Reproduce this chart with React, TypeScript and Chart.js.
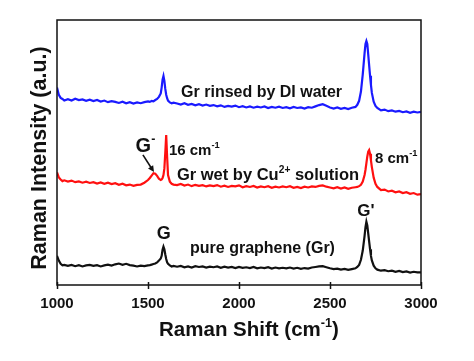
import React, { useEffect, useRef } from "react";
import { Chart, registerables } from "chart.js";

Chart.register(...registerables);

// Raman shift positions (cm^-1)
const shift = [
  1000, 1010, 1020, 1030, 1040,
  1060, 1080, 1100, 1120, 1140, 1160, 1180, 1200, 1220, 1240, 1260, 1280, 1300, 1320, 1340, 1360, 1380, 1400, 1420, 1440, 1460, 1480, 1500,
  1510, 1520, 1530, 1540, 1550, 1560, 1570,
  1575, 1580, 1585, 1590, 1595, 1600, 1605, 1610,
  1620, 1630, 1640,
  1660, 1680, 1700, 1720, 1740, 1760, 1780, 1800, 1820, 1840,
  1860, 1880, 1900, 1920, 1940, 1960, 1980, 2000, 2020, 2040,
  2060, 2080, 2100, 2120, 2140, 2160, 2180, 2200, 2220, 2240,
  2260, 2280, 2300, 2320, 2340, 2360, 2380, 2400, 2420, 2440,
  2460, 2480, 2500, 2520, 2540, 2560, 2580, 2600, 2620, 2640,
  2650, 2660, 2670, 2680, 2690,
  2695, 2700, 2705, 2710, 2715, 2720, 2725, 2730,
  2740, 2750, 2760,
  2780, 2800, 2820, 2840, 2860, 2880, 2900, 2920, 2940, 2960, 2980, 3000,
];

// Gr rinsed by DI water (blue)
const rinsed = [
  74.5, 71.8, 70.6, 70.2, 69.6,
  70.1, 69.6, 70.3, 69.8, 70.0, 69.5, 69.9, 69.4, 69.8, 69.2, 69.6, 69.0, 69.4, 69.1, 68.7, 69.2, 68.6, 69.0, 68.5, 68.9, 68.6, 69.0, 69.3,
  69.1, 69.5, 69.3, 69.8, 70.2, 71.0, 72.3,
  74.5, 77.5, 78.9, 77.0, 74.0, 71.8, 70.5, 69.6,
  68.9, 68.6, 68.8,
  68.5, 68.1, 68.6, 68.0, 68.3, 67.8, 68.2, 67.7, 68.1, 67.6,
  67.9, 67.4, 67.8, 67.2, 67.6, 67.3, 67.7, 67.1, 67.5, 67.0,
  67.4, 66.9, 67.3, 67.0, 67.4, 66.8, 67.2, 66.9, 67.3, 66.8,
  67.1, 66.7, 67.2, 66.8, 67.0, 66.6, 67.1, 66.9, 67.4, 67.9,
  68.2, 67.6, 67.0, 66.6, 67.0, 66.5, 66.8, 66.4, 66.9, 67.2,
  68.0, 69.5, 73.0, 79.5, 87.5,
  91.0, 92.1, 91.0, 87.0, 83.0, 79.0, 75.5, 72.5,
  69.2, 67.6, 66.8,
  65.9, 66.2, 65.6, 65.9, 65.4, 65.7, 65.2, 65.5, 65.0, 65.4, 65.1, 65.3,
];

// Gr wet by Cu2+ solution (red)
const wet = [
  42.5, 40.6, 39.8, 39.2, 39.5,
  39.0, 39.4, 38.8, 39.1, 38.6, 39.0, 38.5, 38.8, 38.3, 38.7, 38.2, 38.6, 38.1, 38.4, 37.8, 38.2, 37.6, 37.9, 37.4, 37.8, 37.9, 38.6, 39.6,
  40.4, 41.3, 42.2, 42.0, 41.2, 40.1, 39.6,
  39.8, 40.4, 41.5, 44.0, 50.0, 56.6, 48.5, 41.5,
  39.0, 38.2, 37.9,
  37.7, 38.1, 37.5, 37.9, 37.3, 37.8, 37.4, 37.7, 37.2, 37.6,
  37.3, 37.7, 37.1, 37.5, 37.0, 37.4, 37.2, 37.6, 36.9, 37.3,
  37.0, 37.4, 36.8, 37.2, 36.9, 37.3, 36.7, 37.1, 36.8, 37.2,
  36.9, 37.3, 36.7, 37.0, 36.6, 37.1, 36.8, 37.2, 37.0, 37.4,
  37.6, 37.1, 36.8, 36.5, 36.9, 36.4, 36.8, 36.3, 36.7, 36.9,
  37.0, 37.3, 37.8, 39.0, 41.5,
  43.5, 46.0, 48.5, 50.3, 50.9, 49.5, 47.0, 44.5,
  40.5, 38.2, 37.0,
  35.8, 36.0, 35.3, 35.6, 35.0, 35.3, 34.7, 35.0, 34.4, 34.7, 34.1, 34.3,
];

// pure graphene (black)
const pure = [
  11.0, 9.2, 8.0, 7.4, 7.6,
  7.2, 7.6, 7.1, 7.5, 7.0, 7.4, 7.6, 7.2, 7.5, 7.0, 7.4, 7.7, 7.3, 7.8, 8.1, 7.6, 8.0, 7.5, 7.3, 7.0, 7.3, 7.1, 7.4,
  7.5, 7.7, 7.9, 8.1, 8.5, 9.2, 10.0,
  11.0, 13.3, 14.5, 13.5, 11.5, 9.8, 8.6, 8.0,
  7.4, 7.0, 7.2,
  6.9, 7.2, 6.7, 7.0, 6.6, 7.1, 6.8, 7.0, 6.6, 6.9,
  6.7, 7.0, 6.5, 6.9, 6.6, 6.8, 6.4, 6.8, 6.5, 6.7,
  6.4, 6.8, 6.3, 6.6, 6.4, 6.7, 6.2, 6.6, 6.3, 6.5,
  6.3, 6.6, 6.2, 6.5, 6.1, 6.4, 6.2, 6.6, 6.8, 7.0,
  7.1, 6.7, 6.3, 6.0, 6.2, 5.8, 6.1, 5.7, 6.0, 6.3,
  6.8, 7.6, 9.5, 13.0, 18.5,
  21.8, 23.9, 22.5, 19.5, 16.5, 13.5, 11.0, 9.3,
  7.3, 6.3, 5.8,
  5.4, 5.6, 5.2, 5.4, 5.0, 5.3, 4.9, 5.1, 4.7, 5.0, 4.8, 4.8,
];

const xTicks = [1000, 1500, 2000, 2500, 3000];

type Part = { t: string; sup?: boolean };
type Note = { parts: Part[]; x: number; y: number; align: "left" | "center"; size: number };

const notes: Note[] = [
  { parts: [{ t: "Gr rinsed by DI water" }], x: 2124, y: 70.9, align: "center", size: 16 },
  { parts: [{ t: "Gr wet by Cu" }, { t: "2+", sup: true }, { t: " solution" }], x: 1659, y: 39.6, align: "left", size: 16.5 },
  { parts: [{ t: "16 cm" }, { t: "-1", sup: true }], x: 1615, y: 49.1, align: "left", size: 15 },
  { parts: [{ t: "8 cm" }, { t: "-1", sup: true }], x: 2747, y: 46.0, align: "left", size: 15 },
  { parts: [{ t: "G" }, { t: "-", sup: true }], x: 1432, y: 50.2, align: "left", size: 20 },
  { parts: [{ t: "G'" }], x: 2697, y: 26.0, align: "center", size: 17 },
  { parts: [{ t: "G" }], x: 1586, y: 17.4, align: "center", size: 18 },
  { parts: [{ t: "pure graphene (Gr)" }], x: 2129, y: 11.9, align: "center", size: 16 },
];

// arrow pointing at the G- shoulder: [shift, intensity]
const arrowFrom = [1472, 49.1];
const arrowTo = [1533, 42.6];

const FONT = '"Liberation Sans", Arial, Helvetica, sans-serif';

function drawParts(ctx: CanvasRenderingContext2D, parts: Part[], x: number, y: number, align: string, size: number) {
  const supSize = size * 0.62;
  const widths = parts.map((p) => {
    ctx.font = `bold ${p.sup ? supSize : size}px ${FONT}`;
    return ctx.measureText(p.t).width;
  });
  const total = widths.reduce((a, b) => a + b, 0);
  let cx = align === "center" ? x - total / 2 : x;
  ctx.textAlign = "left";
  ctx.textBaseline = "alphabetic";
  parts.forEach((p, i) => {
    ctx.font = `bold ${p.sup ? supSize : size}px ${FONT}`;
    ctx.fillText(p.t, cx, p.sup ? y - size * 0.45 : y);
    cx += widths[i];
  });
}

const framePlugin = {
  id: "frameAndNotes",
  afterDraw(chart: any) {
    const { ctx, chartArea, scales } = chart;
    const xs = scales.x;
    const ys = scales.y;
    ctx.save();
    ctx.strokeStyle = "#111";
    ctx.lineWidth = 1.5;
    ctx.strokeRect(chartArea.left, chartArea.top, chartArea.right - chartArea.left, chartArea.bottom - chartArea.top);
    xTicks.forEach((v) => {
      const px = Math.round(xs.getPixelForValue(v)) + 0.5;
      ctx.beginPath();
      ctx.moveTo(px, chartArea.bottom - 3);
      ctx.lineTo(px, chartArea.bottom + 4);
      ctx.stroke();
    });
    ctx.fillStyle = "#111";
    notes.forEach((n) => {
      drawParts(ctx, n.parts, xs.getPixelForValue(n.x), ys.getPixelForValue(n.y), n.align, n.size);
    });
    const x1 = xs.getPixelForValue(arrowFrom[0]);
    const y1 = ys.getPixelForValue(arrowFrom[1]);
    const x2 = xs.getPixelForValue(arrowTo[0]);
    const y2 = ys.getPixelForValue(arrowTo[1]);
    const ang = Math.atan2(y2 - y1, x2 - x1);
    const hl = 7;
    ctx.lineWidth = 1.6;
    ctx.beginPath();
    ctx.moveTo(x1, y1);
    ctx.lineTo(x2 - Math.cos(ang) * hl * 0.7, y2 - Math.sin(ang) * hl * 0.7);
    ctx.stroke();
    ctx.beginPath();
    ctx.moveTo(x2, y2);
    ctx.lineTo(x2 - hl * Math.cos(ang - 0.45), y2 - hl * Math.sin(ang - 0.45));
    ctx.lineTo(x2 - hl * Math.cos(ang + 0.45), y2 - hl * Math.sin(ang + 0.45));
    ctx.closePath();
    ctx.fill();
    const cxMid = (chartArea.left + chartArea.right) / 2 + 10;
    drawParts(ctx, [{ t: "Raman Shift (cm" }, { t: "-1", sup: true }, { t: ")" }], cxMid, chartArea.bottom + 51, "center", 20.5);
    ctx.translate(chartArea.left - 11.5, 158);
    ctx.rotate(-Math.PI / 2);
    drawParts(ctx, [{ t: "Raman Intensity (a.u.)" }], 0, 0, "center", 21.5);
    ctx.restore();
  },
};

export default function App() {
  const ref = useRef<HTMLCanvasElement | null>(null);
  useEffect(() => {
    if (!ref.current) return;
    const mk = (vals: number[]) => shift.map((s, i) => ({ x: s, y: vals[i] }));
    const chart = new Chart(ref.current, {
      type: "line",
      data: {
        datasets: [
          { label: "pure", data: mk(pure), borderColor: "#111111", borderWidth: 2.2, pointRadius: 0, tension: 0 },
          { label: "wet", data: mk(wet), borderColor: "#ff1010", borderWidth: 2.2, pointRadius: 0, tension: 0 },
          { label: "rinsed", data: mk(rinsed), borderColor: "#1a1aff", borderWidth: 2.2, pointRadius: 0, tension: 0 },
        ],
      },
      options: {
        animation: false,
        responsive: true,
        maintainAspectRatio: false,
        layout: { padding: { left: 57, right: 53, top: 20, bottom: 0 } },
        plugins: { legend: { display: false }, tooltip: { enabled: false } },
        scales: {
          x: {
            type: "linear",
            min: 1000,
            max: 3000,
            grid: { display: false, drawTicks: false },
            border: { display: false },
            afterFit: (s: any) => {
              s.height = 76;
            },
            afterBuildTicks: (s: any) => {
              s.ticks = xTicks.map((v) => ({ value: v }));
            },
            ticks: {
              autoSkip: false,
              maxRotation: 0,
              padding: 10,
              color: "#111",
              font: { family: FONT, size: 15, weight: "bold" },
              callback: (v: any) => String(v),
            },
          },
          y: { display: false, min: 0, max: 100 },
        },
      },
      plugins: [framePlugin],
    });
    return () => chart.destroy();
  }, []);
  return (
    <div style={{ position: "fixed", left: 0, top: 0, width: 474, height: 361, background: "#fff" }}>
      <canvas ref={ref} />
    </div>
  );
}
